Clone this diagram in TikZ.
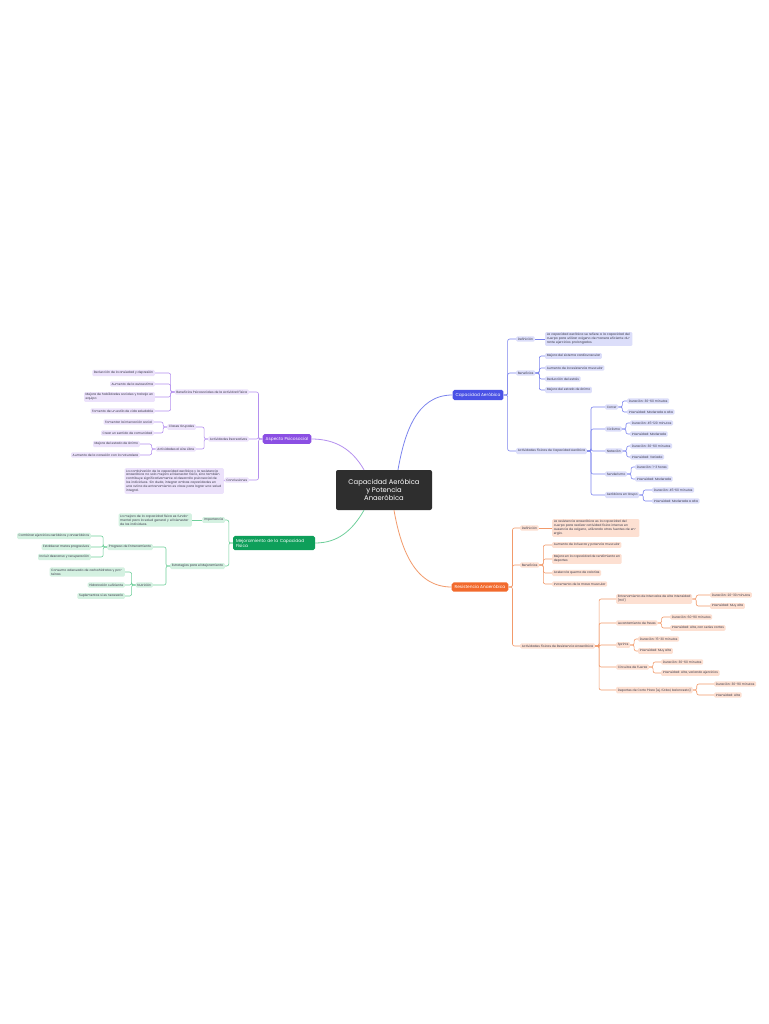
\documentclass[tikz,border=0pt]{standalone}
\usepackage{fontspec}
\setmainfont{Poppins}
\definecolor{bM}{HTML}{4A52E6}\definecolor{bL}{HTML}{DCDEFA}\definecolor{bE}{HTML}{7B84EE}
\definecolor{oM}{HTML}{F26A2D}\definecolor{oL}{HTML}{FDE0D2}\definecolor{oE}{HTML}{F29A6B}
\definecolor{pM}{HTML}{8B4FE3}\definecolor{pL}{HTML}{ECE2FB}\definecolor{pE}{HTML}{B590EF}
\definecolor{gM}{HTML}{0E9F5A}\definecolor{gL}{HTML}{D4F1E1}\definecolor{gE}{HTML}{6FCF9B}
\definecolor{txt}{HTML}{3A3A4A}
\tikzset{
 leaf/.style={rounded corners=1.2pt,inner xsep=1.6pt,inner ysep=1.4pt,font=\fontsize{3.1}{3.9}\selectfont,text=txt,align=left},
 bl/.style={leaf,fill=bL}, ol/.style={leaf,fill=oL}, pl/.style={leaf,fill=pL}, gl/.style={leaf,fill=gL},
 mainn/.style={rounded corners=1.8pt,inner xsep=3pt,inner ysep=2.8pt,font=\fontsize{4.3}{5.2}\selectfont,text=white,align=left},
 be/.style={draw=bE,line width=0.6pt,rounded corners=2pt},
 oe/.style={draw=oE,line width=0.6pt,rounded corners=2pt},
 pe/.style={draw=pE,line width=0.6pt,rounded corners=2pt},
 ge/.style={draw=gE,line width=0.6pt,rounded corners=2pt},
}
\begin{document}
\begin{tikzpicture}[x=1pt,y=-1pt]
\useasboundingbox[fill=white] (0,0) rectangle (768,1024);
% central
\node[fill=black!82,rounded corners=2pt,text=white,align=center,font=\fontsize{6.8}{7.8}\selectfont,minimum width=96pt,minimum height=40pt] (C) at (384,490) {Capacidad Aeróbica\\y Potencia\\Anaeróbica};
% ===== Blue
\node[mainn,fill=bM] (A) at (478,395) {Capacidad Aeróbica};
\node[bl,anchor=west] (A1) at (516,339) {Definición};
\node[bl,anchor=west,text width=84pt] (A1t) at (545,339) {La capacidad aeróbica se refiere a la capacidad del cuerpo para utilizar oxígeno de manera eficiente durante ejercicios prolongados.};
\node[bl,anchor=west] (A2) at (516,373) {Beneficios};
\node[bl,anchor=west] (A2a) at (545,356) {Mejora del sistema cardiovascular};
\node[bl,anchor=west] (A2b) at (545,368) {Aumento de la resistencia muscular};
\node[bl,anchor=west] (A2c) at (545,379) {Reducción del estrés};
\node[bl,anchor=west] (A2d) at (545,390) {Mejora del estado de ánimo};
\node[bl,anchor=west] (A3) at (516,451) {Actividades Físicas de Capacidad Aeróbica};
\node[bl,anchor=west] (Aa) at (605,407) {Correr};
\node[bl,anchor=west] (Aa1) at (627,401) {Duración: 30-60 minutos};
\node[bl,anchor=west] (Aa2) at (627,412) {Intensidad: Moderada a alta};
\node[bl,anchor=west] (Ab) at (605,429) {Ciclismo};
\node[bl,anchor=west] (Ab1) at (630,423) {Duración: 45-120 minutos};
\node[bl,anchor=west] (Ab2) at (630,434) {Intensidad: Moderada};
\node[bl,anchor=west] (Ac) at (605,451) {Natación};
\node[bl,anchor=west] (Ac1) at (630,446) {Duración: 30-60 minutos};
\node[bl,anchor=west] (Ac2) at (630,457) {Intensidad: Variada};
\node[bl,anchor=west] (Ad) at (605,474) {Senderismo};
\node[bl,anchor=west] (Ad1) at (635,467) {Duración: 1-3 horas};
\node[bl,anchor=west] (Ad2) at (635,479) {Intensidad: Moderada};
\node[bl,anchor=west] (Ae) at (605,495) {Aeróbicos en Grupo};
\node[bl,anchor=west] (Ae1) at (652,490) {Duración: 45-60 minutos};
\node[bl,anchor=west] (Ae2) at (652,501) {Intensidad: Moderada a alta};
\foreach \c in {A1,A2,A3} \draw[be] (A.east) -- ++(4,0) |- (\c.west);
\draw[be] (A1.east) -- (A1t.west);
\foreach \c in {A2a,A2b,A2c,A2d} \draw[be] (A2.east) -- ++(4,0) |- (\c.west);
\foreach \c in {Aa,Ab,Ac,Ad,Ae} \draw[be] (A3.east) -- ++(4,0) |- (\c.west);
\foreach \p in {Aa,Ab,Ac,Ad,Ae} {\draw[be] (\p.east) -- ++(4,0) |- (\p1.west); \draw[be] (\p.east) -- ++(4,0) |- (\p2.west);}
% ===== Orange
\node[mainn,fill=oM] (R) at (480,587) {Resistencia Anaeróbica};
\node[ol,anchor=west] (R1) at (520,528) {Definición};
\node[ol,anchor=west,text width=84pt] (R1t) at (552,528) {La resistencia anaeróbica es la capacidad del cuerpo para realizar actividad física intensa en ausencia de oxígeno, utilizando otras fuentes de energía.};
\node[ol,anchor=west] (R2) at (520,565) {Beneficios};
\node[ol,anchor=west] (R2a) at (552,545) {Aumento de la fuerza y potencia muscular};
\node[ol,anchor=west] (R2b) at (552,559) {Mejora en la capacidad de rendimiento en\\deportes};
\node[ol,anchor=west] (R2c) at (552,573) {Acelera la quema de calorías};
\node[ol,anchor=west] (R2d) at (552,584) {Incremento de la masa muscular};
\node[ol,anchor=west] (R3) at (520,646) {Actividades Físicas de Resistencia Anaeróbica};
\node[ol,anchor=west] (Ra) at (616,599) {Entrenamiento de Intervalos de Alta Intensidad\\(HIIT)};
\node[ol,anchor=west] (Ra1) at (710,595) {Duración: 20-30 minutos};
\node[ol,anchor=west] (Ra2) at (710,606) {Intensidad: Muy alta};
\node[ol,anchor=west] (Rb) at (616,623) {Levantamiento de Pesas};
\node[ol,anchor=west] (Rb1) at (670,617) {Duración: 60-90 minutos};
\node[ol,anchor=west] (Rb2) at (670,628) {Intensidad: Alta, con series cortas};
\node[ol,anchor=west] (Rc) at (616,645) {Sprints};
\node[ol,anchor=west] (Rc1) at (638,639) {Duración: 15-30 minutos};
\node[ol,anchor=west] (Rc2) at (638,651) {Intensidad: Muy alta};
\node[ol,anchor=west] (Rd) at (616,667) {Circuitos de Fuerza};
\node[ol,anchor=west] (Rd1) at (661,662) {Duración: 30-60 minutos};
\node[ol,anchor=west] (Rd2) at (661,673) {Intensidad: Alta, variando ejercicios};
\node[ol,anchor=west] (Re) at (616,690) {Deportes de Corto Plazo (ej. fútbol, baloncesto)};
\node[ol,anchor=west] (Re1) at (714,684) {Duración: 30-90 minutos};
\node[ol,anchor=west] (Re2) at (714,695) {Intensidad: Alta};
\foreach \c in {R1,R2,R3} \draw[oe] (R.east) -- ++(4,0) |- (\c.west);
\draw[oe] (R1.east) -- (R1t.west);
\foreach \c in {R2a,R2b,R2c,R2d} \draw[oe] (R2.east) -- ++(4,0) |- (\c.west);
\foreach \c in {Ra,Rb,Rc,Rd,Re} \draw[oe] (R3.east) -- ++(4,0) |- (\c.west);
\foreach \p in {Ra,Rb,Rc,Rd,Re} {\draw[oe] (\p.east) -- ++(4,0) |- (\p1.west); \draw[oe] (\p.east) -- ++(4,0) |- (\p2.west);}
% ===== Purple
\node[mainn,fill=pM] (P) at (287,439) {Aspecto Psicosocial};
\node[pl,anchor=east] (P1) at (249,392) {Beneficios Psicosociales de la Actividad Física};
\node[pl,anchor=east] (P1a) at (155,373) {Reducción de la ansiedad y depresión};
\node[pl,anchor=east] (P1b) at (155,384) {Aumento de la autoestima};
\node[pl,anchor=east] (P1c) at (155,397) {Mejora de habilidades sociales y trabajo en\\equipo};
\node[pl,anchor=east] (P1d) at (155,411) {Fomento de un estilo de vida saludable};
\node[pl,anchor=east] (P2) at (249,439) {Actividades Recreativas};
\node[pl,anchor=east] (Pa) at (196,427) {Clases Grupales};
\node[pl,anchor=east] (Pa1) at (154,422) {Fomentar la interacción social};
\node[pl,anchor=east] (Pa2) at (154,433) {Crear un sentido de comunidad};
\node[pl,anchor=east] (Pb) at (196,449) {Actividades al Aire Libre};
\node[pl,anchor=east] (Pb1) at (140,444) {Mejora del estado de ánimo};
\node[pl,anchor=east] (Pb2) at (140,455) {Aumento de la conexión con la naturaleza};
\node[pl,anchor=east] (P3) at (249,480) {Conclusiones};
\node[pl,anchor=east,text width=96pt] (P3t) at (224,481) {La combinación de la capacidad aeróbica y la resistencia anaeróbica no solo mejora el bienestar físico, sino también contribuye significativamente al desarrollo psicosocial de los individuos. Sin duda, integrar ambas capacidades en una rutina de entrenamiento es clave para lograr una salud integral.};
\foreach \c in {P1,P2,P3} \draw[pe] (P.west) -- ++(-4,0) |- (\c.east);
\draw[pe] (P3.west) -- (P3t.east);
\foreach \c in {P1a,P1b,P1c,P1d} \draw[pe] (P1.west) -- ++(-4,0) |- (\c.east);
\foreach \c in {Pa,Pb} \draw[pe] (P2.west) -- ++(-4,0) |- (\c.east);
\foreach \p in {Pa,Pb} {\draw[pe] (\p.west) -- ++(-4,0) |- (\p1.east); \draw[pe] (\p.west) -- ++(-4,0) |- (\p2.east);}
% ===== Green
\node[mainn,fill=gM,text width=76pt] (G) at (274,543) {Mejoramiento de la Capacidad Física};
\node[gl,anchor=east] (G1) at (225,520) {Importancia};
\node[gl,anchor=east,text width=70pt] (G1t) at (192,520) {La mejora de la capacidad física es fundamental para la salud general y el bienestar de los individuos.};
\node[gl,anchor=east] (G2) at (225,566) {Estrategias para el Mejoramiento};
\node[gl,anchor=east] (Ga) at (153,547) {Progreso de Entrenamiento};
\node[gl,anchor=east] (Ga1) at (91,536) {Combinar ejercicios aeróbicos y anaeróbicos};
\node[gl,anchor=east] (Ga2) at (91,547) {Establecer metas progresivas};
\node[gl,anchor=east] (Ga3) at (91,557) {Incluir descanso y recuperación};
\node[gl,anchor=east] (Gb) at (153,585) {Nutrición};
\node[gl,anchor=east,text width=72pt] (Gb1) at (125,572) {Consumo adecuado de carbohidratos y proteínas};
\node[gl,anchor=east] (Gb2) at (125,585) {Hidratación suficiente};
\node[gl,anchor=east] (Gb3) at (125,596) {Suplementos si es necesario};
\foreach \c in {G1,G2} \draw[ge] (G.west) -- ++(-4,0) |- (\c.east);
\draw[ge] (G1.west) -- (G1t.east);
\foreach \c in {Ga,Gb} \draw[ge] (G2.west) -- ++(-4,0) |- (\c.east);
\foreach \p in {Ga,Gb} {\foreach \i in {1,2,3} \draw[ge] (\p.west) -- ++(-4,0) |- (\p\i.east);}
% central connectors
\draw[bE,line width=0.8pt] (C.north)+(14,0) to[out=80,in=180] (A.west);
\draw[oE,line width=0.8pt] (C.south)+(10,0) to[out=-80,in=180] (R.west);
\draw[pE,line width=0.8pt] (C.north)+(-20,0) to[out=120,in=0] (P.east);
\draw[gE,line width=0.8pt] (C.south)+(-20,0) to[out=-120,in=0] (G.east);
\end{tikzpicture}
\end{document}
